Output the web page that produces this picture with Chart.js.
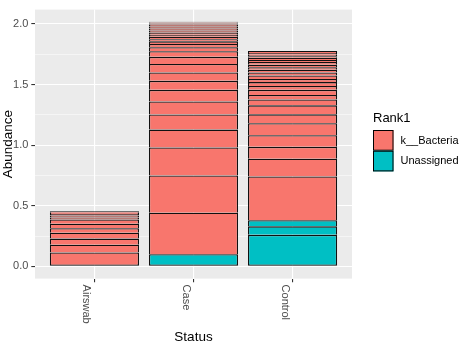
<!DOCTYPE html>
<html>
<head>
<meta charset="utf-8">
<script src="https://cdn.jsdelivr.net/npm/chart.js@4.4.0/dist/chart.umd.min.js"></script>
<style>
  html, body { margin: 0; padding: 0; background: #fff; }
  #wrap { width: 474px; height: 350px; }
</style>
</head>
<body>
<div id="wrap"><canvas id="chart"></canvas></div>
<script>
// Categories and legend entries
const statuses = ['Airswab', 'Case', 'Control'];
const rankLabels = ['k__Bacteria', 'Unassigned'];

// Per-sample abundances, listed bottom to top of each bar
const airswabUnassigned = [];
const airswabBacteria = [0.115, 0.064, 0.050, 0.048, 0.038, 0.037, 0.035, 0.016, 0.016, 0.013, 0.011, 0.011];
const caseUnassigned = [0.10];
const caseBacteria = [0.343, 0.307, 0.230, 0.148, 0.125, 0.107, 0.096, 0.074, 0.070, 0.070, 0.058, 0.046, 0.034,
    0.026, 0.022, 0.018, 0.020, 0.016, 0.018, 0.018, 0.016, 0.016, 0.016, 0.010, 0.006, 0.004, 0.003];
const controlUnassigned = [0.26, 0.07, 0.05];
const controlBacteria = [0.362, 0.146, 0.098, 0.096, 0.098, 0.074, 0.074, 0.048, 0.038, 0.042, 0.032, 0.032, 0.026,
    0.028, 0.026, 0.022, 0.020, 0.022, 0.022, 0.016, 0.018, 0.014, 0.012, 0.014, 0.016];

const yTickValues = [0, 0.5, 1, 1.5, 2];

const bacteriaColor = '#F8766D';
const unassignedColor = '#00BFC4';
const fontFamily = '"Liberation Sans", Arial, sans-serif';

const bars = [
    { unassigned: airswabUnassigned, bacteria: airswabBacteria },
    { unassigned: caseUnassigned, bacteria: caseBacteria },
    { unassigned: controlUnassigned, bacteria: controlBacteria }
];

// One dataset per stacking layer; a bar only gets a point if it has that layer
let datasets = [];
let started = [false, false, false];

function addLayers(key, label, color) {
    const depth = Math.max(...bars.map(b => b[key].length));
    for (let i = 0; i < depth; i++) {
        const points = [];
        bars.forEach((b, j) => {
            if (i < b[key].length) {
                points.push({ x: j + 1, y: b[key][i], first: !started[j] });
                started[j] = true;
            }
        });
        datasets.push({
            label: label,
            data: points,
            backgroundColor: color,
            borderColor: '#111',
            borderWidth: 1.3,
            borderSkipped: (ctx) => (ctx.raw && ctx.raw.first) ? false : 'start'
        });
    }
}
addLayers('unassigned', rankLabels[1], unassignedColor);
addLayers('bacteria', rankLabels[0], bacteriaColor);

// ggplot-like 5% expansion of the y range
const totals = bars.map(b => [...b.unassigned, ...b.bacteria].reduce((a, v) => a + v, 0));
const maxTotal = Math.max(...totals);
const yMin = -0.05 * maxTotal;
const yMax = maxTotal * 1.05;

const isMajor = (v) => yTickValues.some(t => Math.abs(t - v) < 1e-6);

const ggPlugin = {
    id: 'ggDecor',
    beforeDraw(chart) {
        const { ctx, chartArea: a } = chart;
        ctx.save();
        ctx.fillStyle = '#EBEBEB';
        ctx.fillRect(a.left, a.top, a.right - a.left, a.bottom - a.top);
        ctx.restore();
    },
    afterDraw(chart) {
        const { ctx, chartArea: a } = chart;
        const xScale = chart.scales.x;
        ctx.save();
        // rotated category labels, reading downward
        ctx.font = '11px ' + fontFamily;
        ctx.fillStyle = '#4D4D4D';
        statuses.forEach((name, i) => {
            const px = xScale.getPixelForValue(i + 1);
            ctx.save();
            ctx.translate(px, a.bottom + 6);
            ctx.rotate(Math.PI / 2);
            ctx.textAlign = 'left';
            ctx.textBaseline = 'alphabetic';
            ctx.fillText(name, 0, 11);
            ctx.restore();
        });

        // legend
        ctx.fillStyle = '#000';
        ctx.font = '13px ' + fontFamily;
        ctx.textAlign = 'left';
        ctx.textBaseline = 'alphabetic';
        ctx.fillText('Rank1', 373, 122);
        const keyColors = [bacteriaColor, unassignedColor];
        ctx.font = '11px ' + fontFamily;
        rankLabels.forEach((lab, i) => {
            const top = 130 + i * 20.7;
            ctx.fillStyle = keyColors[i];
            ctx.fillRect(373, top, 20.5, 20.7);
            ctx.strokeStyle = '#000';
            ctx.lineWidth = 1;
            ctx.strokeRect(373.5, top + 0.5, 19.5, 19.7);
            ctx.fillStyle = '#000';
            ctx.textBaseline = 'middle';
            ctx.fillText(lab, 400.5, top + 10.5);
        });
        ctx.restore();
    }
};

new Chart(document.getElementById('chart'), {
    type: 'bar',
    data: { datasets: datasets },
    options: {
        responsive: true,
        maintainAspectRatio: false,
        animation: false,
        barPercentage: 0.9,
        categoryPercentage: 1,
        layout: { padding: { top: 1.6, right: 122, left: 0, bottom: 0 } },
        plugins: {
            legend: { display: false },
            tooltip: { enabled: false }
        },
        scales: {
            x: {
                type: 'linear',
                stacked: true,
                offset: false,
                min: 0.4,
                max: 3.6,
                afterFit: (scale) => { scale.height = 71.4; },
                border: { display: false },
                grid: { offset: false, color: '#FFFFFF', lineWidth: 1.1, tickLength: 3.7, tickColor: '#333333' },
                ticks: { stepSize: 1, includeBounds: false, display: false },
                title: {
                    display: true,
                    text: 'Status',
                    color: '#000',
                    font: { family: fontFamily, size: 13.5 },
                    padding: { top: 0, bottom: 5 }
                }
            },
            y: {
                stacked: true,
                min: yMin,
                max: yMax,
                afterFit: (scale) => { scale.width = 35; },
                border: { display: false },
                grid: {
                    color: '#FFFFFF',
                    lineWidth: (ctx) => (ctx.tick && isMajor(ctx.tick.value)) ? 1.1 : 0.5,
                    tickLength: 3.7,
                    tickColor: (ctx) => (ctx.tick && isMajor(ctx.tick.value)) ? '#333333' : 'rgba(0,0,0,0)'
                },
                ticks: {
                    stepSize: 0.25,
                    includeBounds: false,
                    padding: 3,
                    color: '#4D4D4D',
                    font: { family: fontFamily, size: 11 },
                    callback: (v) => isMajor(v) ? Number(v).toFixed(1) : ''
                },
                title: {
                    display: true,
                    text: 'Abundance',
                    color: '#000',
                    font: { family: fontFamily, size: 13.5 },
                    padding: { top: 0, bottom: 0 }
                }
            }
        }
    },
    plugins: [ggPlugin]
});
</script>
</body>
</html>
